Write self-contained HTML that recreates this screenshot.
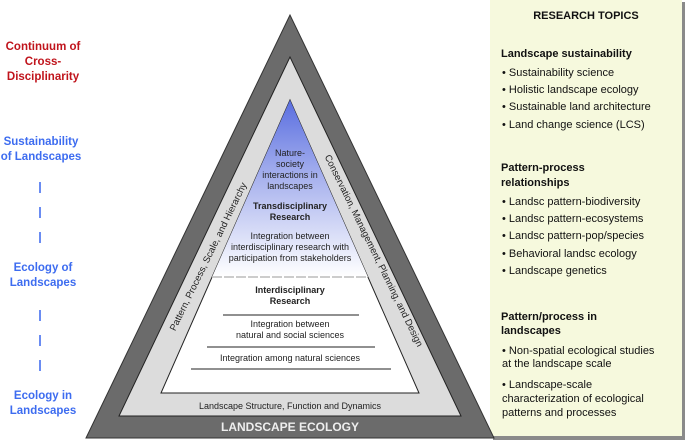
<!DOCTYPE html>
<html><head><style>
body{margin:0;background:#fff;}
svg text{font-family:"Liberation Sans",Arial,sans-serif;}
</style></head><body>
<svg width="685" height="440" xmlns="http://www.w3.org/2000/svg">
<defs>
<linearGradient id="bl" x1="0" y1="0" x2="0" y2="1">
<stop offset="0" stop-color="#5a6ee0"/>
<stop offset="0.45" stop-color="#a9b3ee"/>
<stop offset="1" stop-color="#ffffff"/>
</linearGradient>
</defs>
<rect x="493" y="2" width="192" height="438" fill="#8a8a8a"/>
<rect x="490" y="0" width="192" height="436" fill="#f6f9dd"/>
<polygon points="290,15 86,438 494,438" fill="#6b6b6b" stroke="#333" stroke-width="1"/>
<polygon points="290,57 119,416 461,416" fill="#dcdcdc" stroke="#222" stroke-width="1"/>
<polygon points="290,100 161,393 419,393" fill="#ffffff" stroke="#222" stroke-width="1"/>
<clipPath id="tc"><polygon points="290,100 161,393 419,393"/></clipPath>
<rect x="150" y="100" width="280" height="177" fill="url(#bl)" clip-path="url(#tc)"/>
<line x1="212" y1="277" x2="368" y2="277" stroke="#bbb" stroke-width="1.5" stroke-dasharray="10,2"/>
<line x1="223" y1="315" x2="359" y2="315" stroke="#222"/>
<line x1="207" y1="347" x2="375" y2="347" stroke="#222"/>
<line x1="191" y1="369" x2="391" y2="369" stroke="#222"/>
<g font-size="9" fill="#222" text-anchor="middle">
<text x="290" y="156">Nature-</text>
<text x="290" y="167">society</text>
<text x="290" y="178">interactions in</text>
<text x="290" y="189">landscapes</text>
<text x="290" y="209" font-weight="bold">Transdisciplinary</text>
<text x="290" y="220" font-weight="bold">Research</text>
<text x="290" y="239">Integration between</text>
<text x="290" y="250">interdisciplinary research with</text>
<text x="290" y="261">participation from stakeholders</text>
<text x="290" y="293" font-weight="bold">Interdisciplinary</text>
<text x="290" y="304" font-weight="bold">Research</text>
<text x="290" y="327">Integration between</text>
<text x="290" y="338">natural and social sciences</text>
<text x="290" y="361">Integration among natural sciences</text>
<text x="290" y="409">Landscape Structure, Function and Dynamics</text>
</g>
<g font-size="9.5" fill="#222" text-anchor="middle">
<text transform="translate(211,258) rotate(-64)">Pattern, Process, Scale, and Hierarchy</text>
<text transform="translate(371,252) rotate(64)">Conservation, Management, Planning, and Design</text>
</g>
<text x="290" y="431" font-size="12" font-weight="bold" fill="#eee" text-anchor="middle">LANDSCAPE ECOLOGY</text>
<g font-size="11.5" font-weight="bold" text-anchor="middle">
<g fill="#c0141c">
<text x="43" y="50">Continuum of</text>
<text x="43" y="65">Cross-</text>
<text x="43" y="80">Disciplinarity</text>
</g>
<g fill="#3d6cf0">
<text x="41" y="145">Sustainability</text>
<text x="41" y="160">of Landscapes</text>
<text x="43" y="271">Ecology of</text>
<text x="43" y="286">Landscapes</text>
<text x="43" y="399">Ecology in</text>
<text x="43" y="414">Landscapes</text>
</g>
</g>
<g stroke="#6a8cf2" stroke-width="2">
<line x1="40" y1="182" x2="40" y2="193"/>
<line x1="40" y1="207" x2="40" y2="218"/>
<line x1="40" y1="232" x2="40" y2="243"/>
<line x1="40" y1="310" x2="40" y2="321"/>
<line x1="40" y1="335" x2="40" y2="346"/>
<line x1="40" y1="360" x2="40" y2="371"/>
</g>
<g font-size="11" fill="#111">
<text x="586" y="19" font-weight="bold" text-anchor="middle">RESEARCH TOPICS</text>
<text x="501" y="57" font-weight="bold">Landscape sustainability</text>
<text x="502" y="76">• Sustainability science</text>
<text x="502" y="93">• Holistic landscape ecology</text>
<text x="502" y="110">• Sustainable land architecture</text>
<text x="502" y="128">• Land change science (LCS)</text>
<text x="501" y="171" font-weight="bold">Pattern-process</text>
<text x="501" y="186" font-weight="bold">relationships</text>
<text x="502" y="205">• Landsc pattern-biodiversity</text>
<text x="502" y="222">• Landsc pattern-ecosystems</text>
<text x="502" y="239">• Landsc pattern-pop/species</text>
<text x="502" y="257">• Behavioral landsc ecology</text>
<text x="502" y="274">• Landscape genetics</text>
<text x="501" y="320" font-weight="bold">Pattern/process in</text>
<text x="501" y="334" font-weight="bold">landscapes</text>
<text x="502" y="354">• Non-spatial ecological studies</text>
<text x="502" y="367">at the landscape scale</text>
<text x="502" y="388">• Landscape-scale</text>
<text x="502" y="402">characterization of ecological</text>
<text x="502" y="416">patterns and processes</text>
</g>
</svg>
</body></html>
